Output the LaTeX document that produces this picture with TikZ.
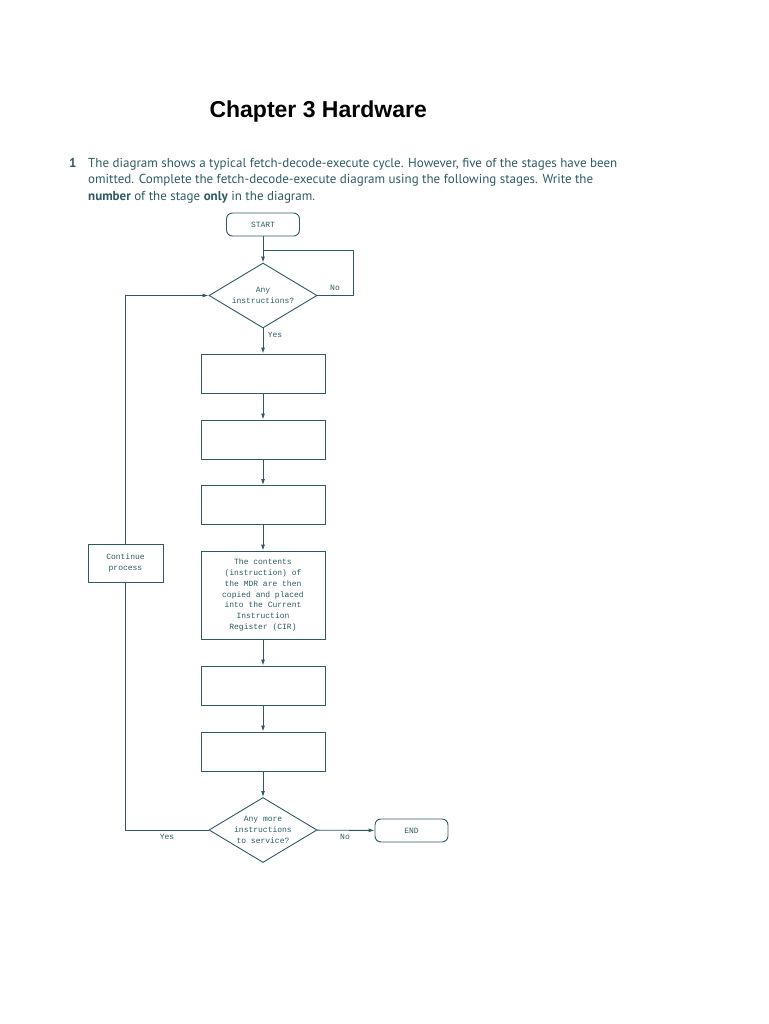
\documentclass[tikz,border=0pt]{standalone}
\usepackage{fontspec}
\setmainfont{PT Sans}
\newfontfamily\titlefont{Liberation Sans}
\newfontfamily\monof{Liberation Mono}
\usetikzlibrary{shapes.geometric,arrows.meta}
\definecolor{tl}{HTML}{2F5A63}
\begin{document}
\begin{tikzpicture}[x=1pt,y=-1pt,
  ln/.style={draw=tl,line width=0.9pt},
  ar/.style={ln,-{Latex[length=6pt,width=4pt]}},
  mono/.style={font=\monof\fontsize{8}{10.8}\selectfont,text=tl,align=center},
  box/.style={ln,minimum width=124pt,minimum height=39pt,inner sep=0pt},
  term/.style={ln,rounded corners=6pt,minimum width=73pt,minimum height=23pt,mono},
  dia/.style={ln,diamond,aspect=1.66,minimum width=108pt,minimum height=65pt,inner sep=0pt,mono}]
\useasboundingbox (0,0) rectangle (768,1024);
\node[font=\titlefont\bfseries\fontsize{23}{26}\selectfont,anchor=west] (title) at (206,112) {Chapter 3 Hardware};
\node[font=\bfseries\fontsize{13}{16}\selectfont,text=tl,anchor=north west,inner sep=0] (num) at (69,158) {1};
\node[font=\fontsize{13}{16.5}\selectfont,text=tl,anchor=north west,align=left,inner sep=0] (para) at (88,158) {The diagram shows a typical fetch-decode-execute cycle. However, five of the stages have been\\omitted. Complete the fetch-decode-execute diagram using the following stages. Write the\\\textbf{number} of the stage \textbf{only} in the diagram.};
\node[term] (start) at (263,224.5) {START};
\node[dia] (d1) at (263,295.5) {Any\\instructions?};
\node[box] (b1) at (263,373.5) {};
\node[box] (b2) at (263,439.5) {};
\node[box] (b3) at (263,505) {};
\node[box,minimum height=88pt,mono] (b4) at (263,595) {The contents\\(instruction) of\\the MDR are then\\copied and placed\\into the Current\\Instruction\\Register (CIR)};
\node[box] (b5) at (263,685.5) {};
\node[box] (b6) at (263,751.5) {};
\node[dia] (d2) at (263,830) {Any more\\instructions\\to service?};
\node[term] (end) at (411.5,830.5) {END};
\node[ln,mono,minimum width=75pt,minimum height=38pt,inner sep=0pt] (cont) at (125.5,563) {Continue\\process};
\coordinate (lp1) at (353,295.5);
\coordinate (lp2) at (353,250);
\coordinate (lp3) at (263,250);
\draw[ln] (start) -- (lp3);
\draw[ar] (d1.east) -- (lp1) -- (lp2) -- (lp3) -- (d1.north);
\draw[ar] (d1) -- (b1);
\draw[ar] (b1) -- (b2);
\draw[ar] (b2) -- (b3);
\draw[ar] (b3) -- (b4);
\draw[ar] (b4) -- (b5);
\draw[ar] (b5) -- (b6);
\draw[ar] (b6) -- (d2);
\draw[ar] (d2) -- (end);
\draw[ln] (d2.west) -| (cont.south);
\draw[ar] (cont.north) |- (d1.west);
\node[mono] (ln1) at (335,288) {No};
\node[mono] (ly1) at (275,335) {Yes};
\node[mono] (ly2) at (167,837) {Yes};
\node[mono] (ln2) at (345,837) {No};
\end{tikzpicture}
\end{document}
